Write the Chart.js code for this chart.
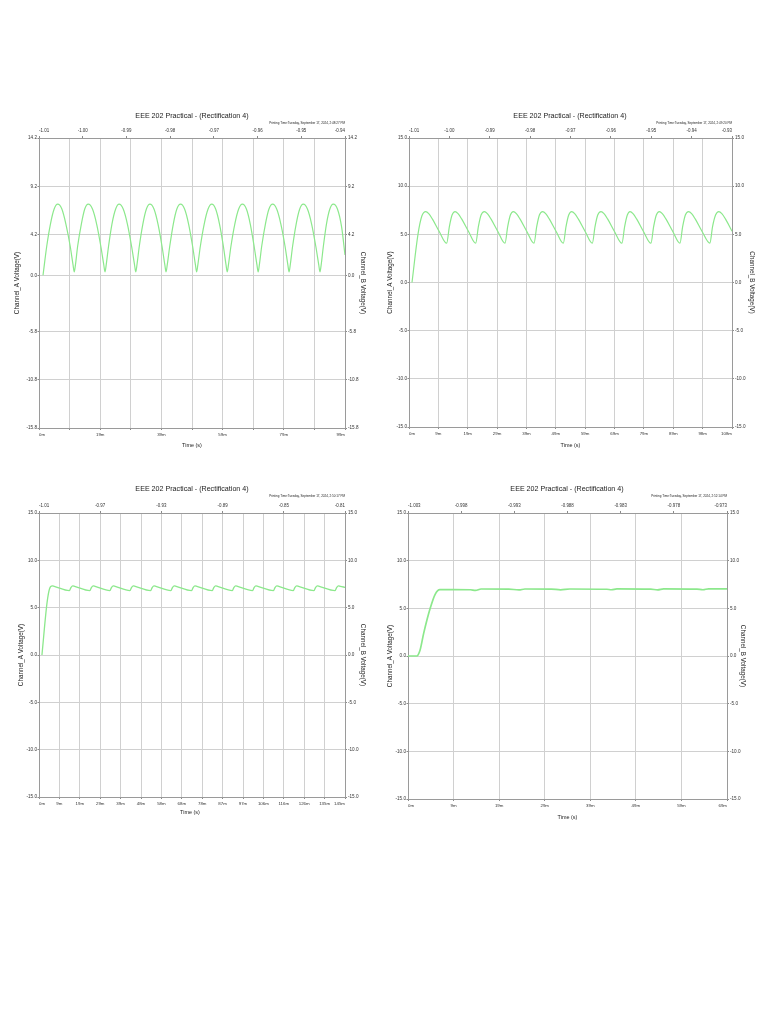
<!DOCTYPE html>
<html><head><meta charset="utf-8">
<script src="https://cdn.jsdelivr.net/npm/chart.js@4.4.1/dist/chart.umd.min.js"></script>
<style>
html,body{margin:0;padding:0;background:#fff;width:768px;height:1024px;overflow:hidden;position:relative}
canvas{position:absolute}
</style>
</head><body>
<script>
// ---------------- DATA ----------------
const chartTitle = 'EEE 202 Practical - (Rectification 4)';
const leftAxisTitle = 'Channel_A Voltage(V)';
const rightAxisTitle = 'Channel_B Voltage(V)';
const bottomAxisTitle = 'Time (s)';

// Chart 1 (top-left) : full-wave rectified, no filter
const c1Time = [1.3,2.5,3.7,4.9,6.05, 7.4,8.7,10.1,11.0,11.4,11.8, 12.5,13.7,14.8,15.95, 17.3,18.65,20.0,20.95,21.35,21.75,
  22.5,23.6,24.8,25.9, 27.25,28.6,29.95,30.9,31.3,31.7, 32.45,33.6,34.75,35.9, 37.2,38.5,39.8,40.7,41.1,41.5,
  42.3,43.45,44.6,45.8, 47.1,48.4,49.7,50.6,51.0,51.4, 52.2,53.45,54.7,55.9, 57.15,58.4,59.65,60.5,60.9,61.3,
  62.1,63.35,64.6,65.8, 67.1,68.35,69.6,70.5,70.9,71.3, 72.05,73.25,74.4,75.6, 76.9,78.25,79.6,80.5,80.9,81.3,
  82.05,83.2,84.35,85.5, 86.85,88.2,89.55,90.5,90.9,91.3, 92.0,93.0,94.1,95.2, 96.55,97.9,99.0];
const c1Volt = [0.0,3.0,5.3,6.85,7.35, 6.85,5.3,3.0,1.1,0.35,1.1, 3.0,5.3,6.85,7.35, 6.85,5.3,3.0,1.1,0.35,1.1,
  3.0,5.3,6.85,7.35, 6.85,5.3,3.0,1.1,0.35,1.1, 3.0,5.3,6.85,7.35, 6.85,5.3,3.0,1.1,0.35,1.1,
  3.0,5.3,6.85,7.35, 6.85,5.3,3.0,1.1,0.35,1.1, 3.0,5.3,6.85,7.35, 6.85,5.3,3.0,1.1,0.35,1.1,
  3.0,5.3,6.85,7.35, 6.85,5.3,3.0,1.1,0.35,1.1, 3.0,5.3,6.85,7.35, 6.85,5.3,3.0,1.1,0.35,1.1,
  3.0,5.3,6.85,7.35, 6.85,5.3,3.0,1.1,0.35,1.1, 3.0,5.3,6.85,7.35, 6.85,5.0,2.1];
const c1TimeTicks = ['0m','','19m','','39m','','59m','','79m','','99m'];
const c1TopTicks = [-1.01,-1.00,-0.99,-0.98,-0.97,-0.96,-0.95,-0.94];
const c1VoltTicks = [14.2,9.2,4.2,0.0,-5.8,-10.8,-15.8];

// Chart 2 (top-right) : small capacitor, large ripple
const c2Time = [1.0,3.0,4.3,5.6, 6.6,7.8,10.1,12.6, 13.5,14.4,15.4, 16.4,17.6,19.9,22.3, 23.2,24.1,25.2,
  26.2,27.4,29.7,32.1, 33.0,33.9,34.9, 35.9,37.1,39.4,41.8, 42.7,43.6,44.7, 45.7,46.9,49.2,51.6,
  52.5,53.4,54.4, 55.4,56.6,58.9,61.3, 62.2,63.1,64.2, 65.2,66.4,68.7,71.2, 72.1,73.0,73.9,
  74.9,76.1,78.4,80.9, 81.8,82.7,83.7, 84.7,85.9,88.2,90.6, 91.5,92.4,93.5, 94.5,95.7,98.0,100.6,
  101.5,102.5,103.6, 104.6,105.8,108.0];
const c2Volt = [0.0,5.0,6.9,7.36, 7.15,6.6,5.3,4.08, 5.8,7.0,7.36, 7.15,6.6,5.3,4.08, 5.8,7.0,7.36,
  7.15,6.6,5.3,4.08, 5.8,7.0,7.36, 7.15,6.6,5.3,4.08, 5.8,7.0,7.36, 7.15,6.6,5.3,4.08,
  5.8,7.0,7.36, 7.15,6.6,5.3,4.08, 5.8,7.0,7.36, 7.15,6.6,5.3,4.08, 5.8,7.0,7.36,
  7.15,6.6,5.3,4.08, 5.8,7.0,7.36, 7.15,6.6,5.3,4.08, 5.8,7.0,7.36, 7.15,6.6,5.3,4.08,
  5.8,7.0,7.36, 7.15,6.6,5.33];
const c2TimeTicks = ['0m','9m','19m','29m','39m','49m','59m','69m','79m','89m','98m','108m'];
const c2TopTicks = [-1.01,-1.00,-0.99,-0.98,-0.97,-0.96,-0.95,-0.94,-0.93];
const c2VoltTicks = [15,10,5,0,-5,-10,-15];

// Chart 3 (bottom-left) : larger capacitor, small ripple
const c3Time = [1.4,3.8,5.0,6.3, 7.2,14.4,15.2,16.0, 16.9,24.1,24.9,25.7, 26.6,33.6,34.4,35.2,
  36.1,43.1,43.9,44.7, 45.6,52.9,53.7,54.5, 55.4,62.5,63.3,64.1, 65.0,72.3,73.1,73.9,
  74.8,82.1,82.9,83.7, 84.6,91.6,92.4,93.2, 94.1,101.2,102.0,102.8, 103.7,111.1,111.9,112.7,
  113.6,120.5,121.3,122.1, 123.0,130.3,131.1,131.9, 132.8,140.3,141.1,141.9, 142.8,145.0];
const c3Volt = [0.0,5.5,7.0,7.3, 7.25,6.8,7.15,7.3, 7.25,6.8,7.15,7.3, 7.25,6.8,7.15,7.3,
  7.25,6.8,7.15,7.3, 7.25,6.8,7.15,7.3, 7.25,6.8,7.15,7.3, 7.25,6.8,7.15,7.3,
  7.25,6.8,7.15,7.3, 7.25,6.8,7.15,7.3, 7.25,6.8,7.15,7.3, 7.25,6.8,7.15,7.3,
  7.25,6.8,7.15,7.3, 7.25,6.8,7.15,7.3, 7.25,6.8,7.15,7.3, 7.25,7.15];
const c3TimeTicks = ['0m','9m','19m','29m','39m','48m','58m','68m','78m','87m','97m','106m','116m','126m','135m','145m'];
const c3TopTicks = [-1.01,-0.97,-0.93,-0.89,-0.85,-0.81];
const c3VoltTicks = [15,10,5,0,-5,-10,-15];

// Chart 4 (bottom-right) : large capacitor, nearly flat DC
const c4Time = [0.0,1.9,2.6,3.4,4.8,5.9,6.9,10.0,13.5,14.6,15.8,21.8,24.0,25.3,31.0,33.0,35.0,
  43.0,44.0,45.2,52.5,54.0,55.3,62.5,63.8,65.0,69.0];
const c4Volt = [0.0,0.0,0.6,2.4,5.0,6.5,6.96,6.97,6.95,6.88,7.03,7.02,6.93,7.03,7.02,6.94,7.03,
  7.0,6.95,7.04,7.01,6.94,7.04,7.01,6.95,7.05,7.05];
const c4TimeTicks = ['0m','9m','19m','29m','39m','49m','59m','69m'];
const c4TopTicks = [-1.003,-0.998,-0.993,-0.988,-0.983,-0.978,-0.973];
const c4VoltTicks = [15,10,5,0,-5,-10,-15];

const printTimes = [
  'Printing Time:Tuesday, September 17, 2024, 2:48:27 PM',
  'Printing Time:Tuesday, September 17, 2024, 2:49:20 PM',
  'Printing Time:Tuesday, September 17, 2024, 2:50:17 PM',
  'Printing Time:Tuesday, September 17, 2024, 2:52:14 PM'
];

// ---------------- FONT ----------------
function hasFont(f){
  const c = document.createElement('canvas').getContext('2d');
  const s = 'abcdefghijklmnopqrstuvwxyz0123456789ABCDEF';
  c.font = '40px monospace'; const a = c.measureText(s).width;
  c.font = '40px "' + f + '", monospace'; const b = c.measureText(s).width;
  c.font = '40px serif'; const a2 = c.measureText(s).width;
  c.font = '40px "' + f + '", serif'; const b2 = c.measureText(s).width;
  return a !== b || a2 !== b2;
}
let FAM = '"Liberation Sans Narrow", "Arial Narrow", sans-serif', K = 1;
if (!hasFont('Liberation Sans Narrow') && !hasFont('Arial Narrow')) {
  FAM = '"Liberation Sans", Arial, sans-serif'; K = 0.84;
}
Chart.defaults.font.family = FAM;

// ---------------- DRAWING ----------------
const GRID = '#d0d0d0', BORDER = '#9a9a9a', TICKC = '#8a8a8a', TXT = '#333', LINE = 'rgb(140,232,140)';

const textPlugin = {
  id: 'texts',
  afterDraw(chart, args, o) {
    const ctx = chart.ctx;
    ctx.save();
    o.items.forEach(it => {
      ctx.save();
      ctx.fillStyle = it.color || '#222';
      ctx.font = (it.size * K) + 'px ' + FAM;
      ctx.textAlign = it.align || 'center';
      ctx.textBaseline = 'middle';
      ctx.translate(it.x - o.ox, it.y - o.oy);
      if (it.rot) ctx.rotate(it.rot * Math.PI / 180);
      ctx.fillText(it.text, 0, 0);
      ctx.restore();
    });
    ctx.restore();
  }
};

function evenTicks(n, min, max) {
  const out = [];
  for (let i = 0; i < n; i++) out.push({ value: min + i * (max - min) / (n - 1) });
  return out;
}

function makeChart(c) {
  const ml = 34, mt = 30, mr = 30, mb = 25;
  const cx = c.plot[0] - ml, cy = c.plot[1] - mt;
  const cw = c.plot[2] - c.plot[0] + ml + mr, ch = c.plot[3] - c.plot[1] + mt + mb;
  const cv = document.createElement('canvas');
  cv.style.left = cx + 'px'; cv.style.top = cy + 'px';
  cv.style.width = cw + 'px'; cv.style.height = ch + 'px';
  cv.width = cw; cv.height = ch;
  document.body.appendChild(cv);
  const midY = (c.plot[1] + c.plot[3]) / 2;
  const midX = (c.plot[0] + c.plot[2]) / 2;
  const tickFont = s => ({ family: FAM, size: s * K });
  new Chart(cv, {
    type: 'line',
    data: { datasets: [{
      data: c.t.map((x, i) => ({ x: x, y: c.v[i] })),
      borderColor: LINE, borderWidth: c.lw, pointRadius: 0,
      cubicInterpolationMode: 'monotone', fill: false,
      xAxisID: 'x', yAxisID: 'y'
    }]},
    options: {
      responsive: false, animation: false, devicePixelRatio: window.devicePixelRatio || 1,
      layout: { padding: 0 },
      plugins: {
        legend: { display: false }, tooltip: { enabled: false }, title: { display: false },
        texts: { ox: cx, oy: cy, items: [
          { text: chartTitle, x: c.title[0], y: c.title[1], size: 8.5 },
          { text: c.print, x: c.plot[2], y: c.title[1] + 7, size: 3.6, align: 'right' },
          { text: bottomAxisTitle, x: c.timeX || midX, y: c.timeY, size: 6.5 },
          { text: leftAxisTitle, x: c.ytl, y: midY, size: 7.5, rot: -90 },
          { text: rightAxisTitle, x: c.ytr, y: midY, size: 7.5, rot: 90 }
        ]}
      },
      scales: {
        x: {
          type: 'linear', position: 'bottom', min: 0, max: c.xMax,
          afterFit: s => { s.height = mb; },
          afterBuildTicks: s => { s.ticks = evenTicks(c.xt.length, 0, c.xMax); },
          ticks: { autoSkip: false, maxRotation: 0, minRotation: 0, align: 'inner', padding: 2.5,
            color: TXT, font: tickFont(5.2), callback: (v, i) => c.xt[i] },
          grid: { color: GRID, tickColor: TICKC, tickLength: 2, lineWidth: 1 },
          border: { color: BORDER, width: 1 }
        },
        xt: {
          type: 'linear', position: 'top', min: c.top[0], max: c.top[c.top.length - 1],
          afterFit: s => { s.height = mt; },
          afterBuildTicks: s => { s.ticks = c.top.map(v => ({ value: v })); },
          ticks: { autoSkip: false, maxRotation: 0, minRotation: 0, align: 'inner', padding: 2.5,
            color: TXT, font: tickFont(5.3), callback: v => v.toFixed(c.topDec) },
          grid: { drawOnChartArea: false, tickColor: TICKC, tickLength: 2 },
          border: { color: BORDER, width: 1 }
        },
        y: {
          type: 'linear', position: 'left', min: c.yt[c.yt.length - 1], max: c.yt[0],
          afterFit: s => { s.width = ml; },
          afterBuildTicks: s => { s.ticks = c.yt.map(v => ({ value: v })); },
          ticks: { autoSkip: false, padding: 0.5, color: TXT, font: tickFont(5.5), callback: v => v.toFixed(1) },
          grid: { color: GRID, tickColor: TICKC, tickLength: 1.5 },
          border: { color: BORDER, width: 1 }
        },
        y2: {
          type: 'linear', position: 'right', min: c.yt[c.yt.length - 1], max: c.yt[0],
          afterFit: s => { s.width = mr; },
          afterBuildTicks: s => { s.ticks = c.yt.map(v => ({ value: v })); },
          ticks: { autoSkip: false, padding: 1, color: TXT, font: tickFont(5.5), callback: v => v.toFixed(1) },
          grid: { drawOnChartArea: false, tickColor: TICKC, tickLength: 2 },
          border: { color: BORDER, width: 1 }
        }
      }
    },
    plugins: [textPlugin]
  });
}

makeChart({ plot: [39, 138, 345, 428], t: c1Time, v: c1Volt, xMax: 99, xt: c1TimeTicks,
  top: c1TopTicks, topDec: 2, yt: c1VoltTicks, lw: 1.2, title: [192, 116], print: printTimes[0],
  timeY: 445, ytl: 17, ytr: 363 });
makeChart({ plot: [409, 138, 732, 427], t: c2Time, v: c2Volt, xMax: 108, xt: c2TimeTicks,
  top: c2TopTicks, topDec: 2, yt: c2VoltTicks, lw: 1.2, title: [570, 116], print: printTimes[1],
  timeY: 445, ytl: 390, ytr: 752 });
makeChart({ plot: [39, 513, 345, 797], t: c3Time, v: c3Volt, xMax: 145, xt: c3TimeTicks,
  top: c3TopTicks, topDec: 2, yt: c3VoltTicks, lw: 1.3, title: [192, 489], print: printTimes[2],
  timeY: 812, timeX: 190, ytl: 21, ytr: 363 });
makeChart({ plot: [408, 513, 727, 799], t: c4Time, v: c4Volt, xMax: 69, xt: c4TimeTicks,
  top: c4TopTicks, topDec: 3, yt: c4VoltTicks, lw: 1.7, title: [567, 489], print: printTimes[3],
  timeY: 817, ytl: 390, ytr: 743 });
</script>
</body></html>
